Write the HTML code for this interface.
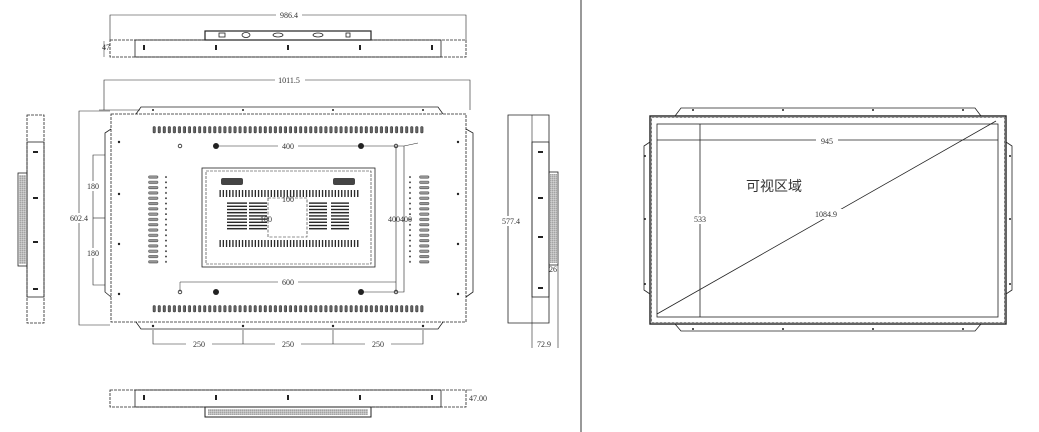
<!DOCTYPE html>
<html><head><meta charset="utf-8"><style>
html,body{margin:0;padding:0;background:#fff;}
svg{display:block;}
text{font-family:"Liberation Serif","Noto Serif CJK SC",serif;font-size:8px;fill:#333;}
</style></head><body>
<svg width="1039" height="432" viewBox="0 0 1039 432" xmlns="http://www.w3.org/2000/svg">
<defs>
<pattern id="vslot" x="152" y="126" width="5.05" height="10" patternUnits="userSpaceOnUse"><rect x="1" y="0.5" width="2.4" height="6.5" rx="1.1" fill="#666" stroke="#222" stroke-width="0.5"/></pattern>
<pattern id="vslot2" x="152" y="305" width="5.05" height="10" patternUnits="userSpaceOnUse"><rect x="1" y="0.5" width="2.4" height="6.5" rx="1.1" fill="#666" stroke="#222" stroke-width="0.5"/></pattern>
<pattern id="hslotL" x="148" y="175" width="12" height="5.3" patternUnits="userSpaceOnUse"><rect x="0.5" y="0.8" width="9.5" height="2.4" rx="1.1" fill="#999" stroke="#444" stroke-width="0.5"/></pattern>
<pattern id="hslotR" x="419" y="175" width="12" height="5.3" patternUnits="userSpaceOnUse"><rect x="0.5" y="0.8" width="9.5" height="2.4" rx="1.1" fill="#999" stroke="#444" stroke-width="0.5"/></pattern>
<pattern id="dots" x="0" y="175" width="4" height="5.3" patternUnits="userSpaceOnUse"><circle cx="2" cy="2" r="0.9" fill="#333"/></pattern>
<pattern id="islot" x="219" y="0" width="3.2" height="10" patternUnits="userSpaceOnUse"><rect x="0.5" y="0" width="1.3" height="7" fill="#222"/></pattern>
<pattern id="hline" x="0" y="202" width="10" height="3.2" patternUnits="userSpaceOnUse"><rect x="0" y="0.4" width="10" height="1.4" fill="#222"/></pattern>
<pattern id="pins" x="0" y="0" width="2" height="2" patternUnits="userSpaceOnUse"><rect x="0.3" y="0.3" width="1.2" height="1.2" fill="#444"/></pattern>
</defs>
<g fill="none" stroke="#222" stroke-width="0.8">
<polyline points="110,40 110,15 466,15 466,40" stroke-width="0.6"/>
<rect x="110" y="40" width="356" height="17" stroke-dasharray="3,1"/>
<rect x="135" y="40" width="306" height="17"/>
<rect x="205" y="31" width="166" height="9" stroke-width="1.2"/>
<rect x="219" y="33" width="6" height="4" stroke-width="0.8"/>
<ellipse cx="246" cy="35" rx="4" ry="2.5" stroke-width="0.8"/>
<ellipse cx="278" cy="35" rx="5" ry="2" stroke-width="0.8"/>
<ellipse cx="318" cy="35" rx="5" ry="2" stroke-width="0.8"/>
<rect x="346" y="33" width="4" height="4" stroke-width="0.8"/>
<line x1="104" y1="41" x2="104" y2="57" stroke-width="0.5"/>
<polyline points="104,110 104,80 470,80 470,110" stroke-width="0.6"/>
<line x1="99" y1="110" x2="140" y2="110" stroke-width="0.6"/>
<path d="M136,114 L141,107 L438,107 L443,114" />
<path d="M136,322 L141,329 L438,329 L443,322" />
<path d="M111,129 L105,133 L105,292 L111,297" />
<path d="M466,129 L473,133 L473,292 L466,297" />
<rect x="111" y="114" width="355" height="208" stroke-dasharray="3,1"/>
<rect x="202" y="168" width="173" height="99" />
<rect x="206" y="171" width="165" height="93" stroke-dasharray="3,1" stroke-width="0.6"/>
<rect x="268" y="198" width="39" height="39" stroke-dasharray="3,1.5" stroke-width="0.6"/>
<polyline points="216,146 361,146" stroke-width="0.5"/>
<polyline points="180,282 396,282" stroke-width="0.5"/>
<polyline points="361,146 396,146 396,292 361,292" stroke-width="0.6"/>
<polyline points="396,146 404,146 404,292 396,292" stroke-width="0.6"/>
<line x1="404" y1="146" x2="418" y2="143" stroke-width="0.5"/>
<line x1="180" y1="282" x2="180" y2="292" stroke-width="0.5"/>
<circle cx="180" cy="292" r="1.8"/><circle cx="180" cy="146" r="1.8"/><circle cx="396" cy="146" r="1.8"/><circle cx="396" cy="292" r="1.8"/>
<polyline points="153,330 153,344 423,344 423,330" stroke-width="0.6"/>
<line x1="243" y1="330" x2="243" y2="344" stroke-width="0.6"/>
<line x1="333" y1="330" x2="333" y2="344" stroke-width="0.6"/>
<polyline points="110,111 79,111 79,325 110,325" stroke-width="0.6"/>
<polyline points="105,155 93,155 93,285 105,285" stroke-width="0.6"/>
<line x1="93" y1="218" x2="105" y2="218" stroke-width="0.6"/>
<rect x="27" y="115" width="17" height="208" stroke-dasharray="3,1"/>
<rect x="27" y="142" width="17" height="155"/>
<rect x="18" y="173" width="9" height="93"/>
<polyline points="532,115 508,115 508,323 549,323 549,115 532,115" />
<rect x="532" y="142" width="17" height="155"/>
<rect x="549" y="172" width="9" height="93"/>
<line x1="532" y1="115" x2="532" y2="348" stroke-width="0.6"/>
<line x1="558" y1="265" x2="558" y2="348" stroke-width="0.6"/>
<rect x="110" y="390" width="356" height="17" stroke-dasharray="3,1"/>
<rect x="135" y="390" width="306" height="17"/>
<rect x="205" y="407" width="166" height="10" stroke-width="1"/>
<line x1="466" y1="390" x2="472" y2="390" stroke-width="0.5"/>
<path d="M675,116 L681,108 L975,108 L981,116" />
<path d="M675,324 L681,331 L975,331 L981,324" />
<path d="M650,142 L644,146 L644,290 L650,294" />
<path d="M1006,142 L1012,146 L1012,290 L1006,294" />
<rect x="650" y="116" width="356" height="208" stroke-width="1.4"/>
<rect x="651.5" y="117.5" width="353" height="205" stroke-dasharray="3,1" stroke-width="0.6"/>
<rect x="657" y="124" width="341" height="193" stroke-width="0.8"/>
<line x1="657" y1="140" x2="998" y2="140" stroke-width="0.8"/>
<line x1="700" y1="124" x2="700" y2="317" stroke-width="0.8"/>
<line x1="657" y1="314" x2="996" y2="121" stroke-width="0.8"/>
</g>
<rect x="580" y="0" width="2" height="432" fill="#999"/>
<rect x="152" y="126" width="273" height="8" fill="url(#vslot)"/>
<rect x="152" y="305" width="273" height="8" fill="url(#vslot2)"/>
<rect x="148" y="175" width="11" height="90" fill="url(#hslotL)"/>
<rect x="419" y="175" width="11" height="90" fill="url(#hslotR)"/>
<rect x="164" y="175" width="4" height="90" fill="url(#dots)"/>
<rect x="408" y="175" width="4" height="90" fill="url(#dots)"/>
<rect x="219" y="189" width="140" height="8" fill="url(#islot)"/>
<rect x="219" y="240" width="140" height="8" fill="url(#islot)"/>
<rect x="227" y="202" width="20" height="28" fill="url(#hline)"/>
<rect x="249" y="202" width="18" height="28" fill="url(#hline)"/>
<rect x="309" y="202" width="18" height="28" fill="url(#hline)"/>
<rect x="331" y="202" width="18" height="28" fill="url(#hline)"/>
<rect x="221" y="178" width="22" height="7" rx="2" fill="#444"/>
<rect x="333" y="178" width="22" height="7" rx="2" fill="#444"/>
<g fill="#222">
<circle cx="216" cy="146" r="3"/><circle cx="361" cy="146" r="3"/><circle cx="216" cy="292" r="3"/><circle cx="361" cy="292" r="3"/>
<circle cx="119" cy="142" r="1.2"/><circle cx="119" cy="194" r="1.2"/><circle cx="119" cy="244" r="1.2"/><circle cx="119" cy="294" r="1.2"/>
<circle cx="458" cy="142" r="1.2"/><circle cx="458" cy="194" r="1.2"/><circle cx="458" cy="244" r="1.2"/><circle cx="458" cy="294" r="1.2"/>
<circle cx="153" cy="110" r="1"/><circle cx="243" cy="110" r="1"/><circle cx="333" cy="110" r="1"/><circle cx="423" cy="110" r="1"/>
<circle cx="153" cy="326" r="1.2"/><circle cx="243" cy="326" r="1.2"/><circle cx="333" cy="326" r="1.2"/><circle cx="423" cy="326" r="1.2"/>
<rect x="143" y="45" width="2" height="5"/><rect x="215" y="45" width="2" height="5"/><rect x="287" y="45" width="2" height="5"/><rect x="359" y="45" width="2" height="5"/><rect x="431" y="45" width="2" height="5"/>
<rect x="143" y="395" width="2" height="5"/><rect x="215" y="395" width="2" height="5"/><rect x="287" y="395" width="2" height="5"/><rect x="359" y="395" width="2" height="5"/><rect x="431" y="395" width="2" height="5"/>
<rect x="33" y="151" width="5" height="2"/><rect x="33" y="197" width="5" height="2"/><rect x="33" y="241" width="5" height="2"/><rect x="33" y="288" width="5" height="2"/>
<rect x="538" y="151" width="5" height="2"/><rect x="538" y="197" width="5" height="2"/><rect x="538" y="236" width="5" height="2"/><rect x="538" y="287" width="5" height="2"/>
<circle cx="693" cy="110" r="1"/><circle cx="783" cy="110" r="1"/><circle cx="873" cy="110" r="1"/><circle cx="963" cy="110" r="1"/>
<circle cx="693" cy="329" r="1"/><circle cx="783" cy="329" r="1"/><circle cx="873" cy="329" r="1"/><circle cx="963" cy="329" r="1"/>
<circle cx="645" cy="156" r="1"/><circle cx="645" cy="219" r="1"/><circle cx="645" cy="284" r="1"/>
<circle cx="1010" cy="156" r="1"/><circle cx="1010" cy="219" r="1"/><circle cx="1010" cy="284" r="1"/>
</g>
<rect x="19" y="175" width="7" height="89" fill="url(#pins)"/>
<rect x="550" y="174" width="7" height="89" fill="url(#pins)"/>
<rect x="208" y="409" width="160" height="6" fill="url(#pins)"/>
<g text-anchor="middle">
<rect x="276" y="10" width="26" height="10" fill="#fff"/><text x="289" y="18">986.4</text>
<rect x="275" y="75" width="30" height="10" fill="#fff"/><text x="289" y="83">1011.5</text>
<text x="106" y="50">47</text>
<rect x="278" y="141" width="20" height="10" fill="#fff"/><text x="288" y="149">400</text>
<rect x="278" y="277" width="20" height="10" fill="#fff"/><text x="288" y="285">600</text>
<text x="288" y="202" fill="#3b5b8a">100</text>
<text x="266" y="222" fill="#3b5b8a">100</text>
<text x="400" y="222">400400</text>
<rect x="186" y="339" width="26" height="10" fill="#fff"/><text x="199" y="347">250</text>
<rect x="275" y="339" width="26" height="10" fill="#fff"/><text x="288" y="347">250</text>
<rect x="365" y="339" width="26" height="10" fill="#fff"/><text x="378" y="347">250</text>
<rect x="66" y="213" width="26" height="10" fill="#fff"/><text x="79" y="221" fill="#3b5b8a">602.4</text>
<rect x="86" y="181" width="14" height="10" fill="#fff"/><text x="93" y="189">180</text>
<rect x="86" y="248" width="14" height="10" fill="#fff"/><text x="93" y="256">180</text>
<rect x="498" y="216" width="26" height="10" fill="#fff"/><text x="511" y="224">577.4</text>
<text x="544" y="347">72.9</text>
<text x="553" y="272">26</text>
<text x="478" y="401">47.00</text>
<rect x="816" y="136" width="22" height="10" fill="#fff"/><text x="827" y="144">945</text>
<rect x="692" y="214" width="16" height="10" fill="#fff"/><text x="700" y="222">533</text>
<rect x="810" y="209" width="32" height="10" fill="#fff"/><text x="826" y="217">1084.9</text>
<text x="774" y="191" style="font-family:'Noto Sans CJK SC',sans-serif;font-size:14px;">可视区域</text>
</g>
</svg>
</body></html>
